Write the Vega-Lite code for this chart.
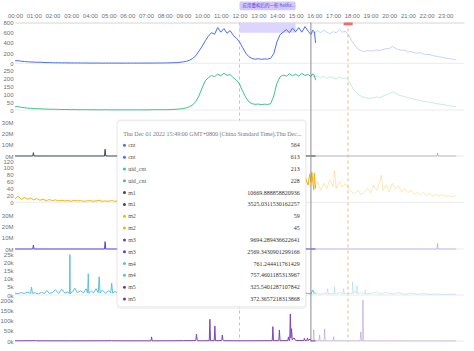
{
"$schema":"https://vega.github.io/schema/vega-lite/v6.json",
"width":449,"height":319,
"autosize":{"type":"none"},
"padding":{"left":15,"top":22.5,"right":10,"bottom":9.5},
"background":"#ffffff",
"config":{
 "view":{"stroke":null},
 "font":"Liberation Sans",
 "mark":{"invalid":"filter"},
 "line":{"strokeWidth":1},
 "axisY":{"grid":false,"domain":false,"ticks":false,"labelPadding":2,"labelFontSize":6,"labelColor":"#6e7079"}
},
"datasets":{
 "vl":[{"t":"2022-12-01T12:00","k":"ev"},{"t":"2022-12-01T17:48","k":"ev"},{"t":"2022-12-01T15:49","k":"cursor"}],
 "ev":[{"t":"2022-12-01T12:00","t2":"2022-12-01T15:00","k":"hotfix","label":"应用重构后的一些 hotfix..."},{"t":"2022-12-01T17:34","t2":"2022-12-01T18:03","k":"alert","label":""}],
 "base":[{"k":"zero"}],
 "tip":[
  {"i":0,"k":"Thu Dec 01 2022 15:49:00 GMT+0800 (China Standard Time),Thu Dec...","v":""},
  {"i":1,"k":"cnt","v":"564"},
  {"i":2,"k":"cnt","v":"613"},
  {"i":3,"k":"uid_cnt","v":"213"},
  {"i":4,"k":"uid_cnt","v":"228"},
  {"i":5,"k":"m1","v":"10669.888858820936"},
  {"i":6,"k":"m1","v":"3525.0311530162257"},
  {"i":7,"k":"m2","v":"59"},
  {"i":8,"k":"m2","v":"45"},
  {"i":9,"k":"m3","v":"9694.289436622641"},
  {"i":10,"k":"m3","v":"2569.3430901299166"},
  {"i":11,"k":"m4","v":"761.244411761429"},
  {"i":12,"k":"m4","v":"757.4601185313967"},
  {"i":13,"k":"m5","v":"325.5401287107842"},
  {"i":14,"k":"m5","v":"372.3657218313868"}
 ],
 "main":[
  {"t":"2022-12-01T00:00","c":48,"u":20,"y":10},
  {"t":"2022-12-01T00:10","c":52,"u":22,"y":18},
  {"t":"2022-12-01T00:20","c":40,"u":17,"y":8},
  {"t":"2022-12-01T00:30","c":36,"u":15,"y":14},
  {"t":"2022-12-01T00:40","c":30,"u":12,"y":9},
  {"t":"2022-12-01T00:50","c":26,"u":11,"y":12},
  {"t":"2022-12-01T01:00","c":24,"u":9,"y":7},
  {"t":"2022-12-01T01:10","c":20,"u":8,"y":11},
  {"t":"2022-12-01T01:20","c":22,"u":8,"y":6},
  {"t":"2022-12-01T01:30","c":17,"u":6,"y":9},
  {"t":"2022-12-01T01:40","c":15,"u":6,"y":5},
  {"t":"2022-12-01T01:50","c":14,"u":5,"y":8},
  {"t":"2022-12-01T02:00","c":12,"u":5,"y":5},
  {"t":"2022-12-01T02:10","c":10,"u":4,"y":7},
  {"t":"2022-12-01T02:20","c":11,"u":4,"y":4},
  {"t":"2022-12-01T02:30","c":8,"u":3,"y":6},
  {"t":"2022-12-01T02:40","c":9,"u":3,"y":4},
  {"t":"2022-12-01T02:50","c":7,"u":3,"y":5},
  {"t":"2022-12-01T03:00","c":8,"u":2,"y":3},
  {"t":"2022-12-01T03:10","c":6,"u":3,"y":6},
  {"t":"2022-12-01T03:20","c":7,"u":2,"y":4},
  {"t":"2022-12-01T03:30","c":5,"u":2,"y":5},
  {"t":"2022-12-01T03:40","c":6,"u":2,"y":3},
  {"t":"2022-12-01T03:50","c":5,"u":2,"y":4},
  {"t":"2022-12-01T04:00","c":4,"u":2,"y":5},
  {"t":"2022-12-01T04:10","c":5,"u":1,"y":3},
  {"t":"2022-12-01T04:20","c":4,"u":2,"y":4},
  {"t":"2022-12-01T04:30","c":5,"u":1,"y":6},
  {"t":"2022-12-01T04:40","c":3,"u":1,"y":3},
  {"t":"2022-12-01T04:50","c":4,"u":2,"y":4},
  {"t":"2022-12-01T05:00","c":3,"u":1,"y":3},
  {"t":"2022-12-01T05:10","c":4,"u":1,"y":5},
  {"t":"2022-12-01T05:20","c":3,"u":1,"y":3},
  {"t":"2022-12-01T05:30","c":4,"u":1,"y":4},
  {"t":"2022-12-01T05:40","c":3,"u":1,"y":3},
  {"t":"2022-12-01T05:50","c":3,"u":1},
  {"t":"2022-12-01T06:00","c":4,"u":1,"y":3},
  {"t":"2022-12-01T06:10","c":3,"u":1},
  {"t":"2022-12-01T06:20","c":4,"u":1},
  {"t":"2022-12-01T06:30","c":3,"u":1,"y":4},
  {"t":"2022-12-01T06:40","c":4,"u":1},
  {"t":"2022-12-01T06:50","c":4,"u":1},
  {"t":"2022-12-01T07:00","c":5,"u":1,"y":4},
  {"t":"2022-12-01T07:10","c":4,"u":1},
  {"t":"2022-12-01T07:20","c":5,"u":2},
  {"t":"2022-12-01T07:30","c":5,"u":2,"y":5},
  {"t":"2022-12-01T07:40","c":6,"u":2},
  {"t":"2022-12-01T07:50","c":6,"u":2},
  {"t":"2022-12-01T08:00","c":7,"u":2,"y":6},
  {"t":"2022-12-01T08:10","c":8,"u":2},
  {"t":"2022-12-01T08:20","c":9,"u":3},
  {"t":"2022-12-01T08:30","c":12,"u":4,"y":8},
  {"t":"2022-12-01T08:40","c":14,"u":5},
  {"t":"2022-12-01T08:50","c":20,"u":7},
  {"t":"2022-12-01T09:00","c":28,"u":10,"y":12},
  {"t":"2022-12-01T09:10","c":40,"u":14},
  {"t":"2022-12-01T09:20","c":62,"u":22},
  {"t":"2022-12-01T09:30","c":95,"u":32,"y":20},
  {"t":"2022-12-01T09:40","c":150,"u":55},
  {"t":"2022-12-01T09:50","c":240,"u":90},
  {"t":"2022-12-01T10:00","c":330,"u":140,"y":38},
  {"t":"2022-12-01T10:10","c":440,"u":185},
  {"t":"2022-12-01T10:20","c":530,"u":205},
  {"t":"2022-12-01T10:30","c":600,"u":220,"y":60},
  {"t":"2022-12-01T10:40","c":570,"u":212},
  {"t":"2022-12-01T10:50","c":700,"u":228},
  {"t":"2022-12-01T11:00","c":610,"u":218,"y":55},
  {"t":"2022-12-01T11:10","c":680,"u":234},
  {"t":"2022-12-01T11:20","c":590,"u":220},
  {"t":"2022-12-01T11:30","c":640,"u":226,"y":62},
  {"t":"2022-12-01T11:40","c":550,"u":205},
  {"t":"2022-12-01T11:50","c":490,"u":190},
  {"t":"2022-12-01T12:00","c":420,"u":165,"y":45},
  {"t":"2022-12-01T12:10","c":310,"u":120},
  {"t":"2022-12-01T12:20","c":200,"u":80},
  {"t":"2022-12-01T12:30","c":130,"u":52,"y":20},
  {"t":"2022-12-01T12:40","c":95,"u":40},
  {"t":"2022-12-01T12:50","c":80,"u":36},
  {"t":"2022-12-01T13:00","c":90,"u":38,"y":15},
  {"t":"2022-12-01T13:10","c":78,"u":34},
  {"t":"2022-12-01T13:20","c":85,"u":37},
  {"t":"2022-12-01T13:30","c":82,"u":35,"y":16},
  {"t":"2022-12-01T13:40","c":100,"u":40},
  {"t":"2022-12-01T13:50","c":190,"u":90},
  {"t":"2022-12-01T14:00","c":420,"u":170,"y":42},
  {"t":"2022-12-01T14:10","c":560,"u":210},
  {"t":"2022-12-01T14:20","c":610,"u":222},
  {"t":"2022-12-01T14:30","c":660,"u":215,"y":70},
  {"t":"2022-12-01T14:40","c":600,"u":230},
  {"t":"2022-12-01T14:50","c":690,"u":218},
  {"t":"2022-12-01T15:00","c":620,"u":228,"y":58},
  {"t":"2022-12-01T15:10","c":700,"u":215,"y":80},
  {"t":"2022-12-01T15:20","c":610,"u":232,"y":62},
  {"t":"2022-12-01T15:30","c":720,"u":220,"y":75},
  {"t":"2022-12-01T15:40","c":630,"u":226,"y":50},
  {"t":"2022-12-01T15:45","y":82},
  {"t":"2022-12-01T15:49","c":564,"c2":613,"u":213,"u2":228,"y":59,"y2":45},
  {"t":"2022-12-01T15:52","y":88,"y2":62},
  {"t":"2022-12-01T15:55","c":650,"u":230,"y2":70},
  {"t":"2022-12-01T15:58","y":36},
  {"t":"2022-12-01T16:00","c":620,"c2":590,"u":222,"u2":210,"y":85,"y2":40},
  {"t":"2022-12-01T16:04","c":400,"u":190,"y":40},
  {"t":"2022-12-01T16:10","c2":640,"u2":218,"y2":60},
  {"t":"2022-12-01T16:20","c2":600,"u2":205,"y2":35},
  {"t":"2022-12-01T16:30","c2":650,"u2":215,"y2":55},
  {"t":"2022-12-01T16:40","c2":610,"u2":200,"y2":40},
  {"t":"2022-12-01T16:50","c2":580,"u2":212,"y2":65},
  {"t":"2022-12-01T17:00","c2":620,"u2":205,"y2":45},
  {"t":"2022-12-01T17:05","y2":92},
  {"t":"2022-12-01T17:10","c2":600,"u2":198,"y2":40},
  {"t":"2022-12-01T17:20","c2":660,"u2":210,"y2":60},
  {"t":"2022-12-01T17:30","c2":610,"u2":200,"y2":45},
  {"t":"2022-12-01T17:40","c2":630,"u2":205,"y2":55},
  {"t":"2022-12-01T17:50","c2":560,"u2":185,"y2":40},
  {"t":"2022-12-01T18:00","c2":440,"u2":150,"y2":30},
  {"t":"2022-12-01T18:10","c2":350,"u2":120,"y2":25},
  {"t":"2022-12-01T18:20","c2":280,"u2":100,"y2":35},
  {"t":"2022-12-01T18:30","c2":250,"u2":88,"y2":22},
  {"t":"2022-12-01T18:40","c2":225,"u2":80,"y2":30},
  {"t":"2022-12-01T18:50","c2":250,"u2":76,"y2":40},
  {"t":"2022-12-01T19:00","c2":240,"u2":74,"y2":28},
  {"t":"2022-12-01T19:10","c2":245,"u2":78,"y2":50},
  {"t":"2022-12-01T19:20","c2":260,"u2":82,"y2":35},
  {"t":"2022-12-01T19:30","c2":250,"u2":80,"y2":60},
  {"t":"2022-12-01T19:35","y2":78},
  {"t":"2022-12-01T19:40","c2":275,"u2":88,"y2":35},
  {"t":"2022-12-01T19:50","c2":285,"u2":96,"y2":50},
  {"t":"2022-12-01T20:00","c2":290,"u2":104,"y2":30},
  {"t":"2022-12-01T20:10","c2":330,"u2":116,"y2":55},
  {"t":"2022-12-01T20:20","c2":295,"u2":108,"y2":38},
  {"t":"2022-12-01T20:30","c2":270,"u2":96,"y2":48},
  {"t":"2022-12-01T20:40","c2":255,"u2":90,"y2":30},
  {"t":"2022-12-01T20:50","c2":260,"u2":84,"y2":40},
  {"t":"2022-12-01T21:00","c2":220,"u2":78,"y2":28},
  {"t":"2022-12-01T21:10","c2":230,"u2":74,"y2":35},
  {"t":"2022-12-01T21:20","c2":205,"u2":68,"y2":24},
  {"t":"2022-12-01T21:30","c2":200,"u2":64,"y2":30},
  {"t":"2022-12-01T21:40","c2":210,"u2":60,"y2":22},
  {"t":"2022-12-01T21:50","c2":180,"u2":56,"y2":28},
  {"t":"2022-12-01T22:00","c2":170,"u2":53,"y2":20},
  {"t":"2022-12-01T22:10","c2":172,"u2":50,"y2":25},
  {"t":"2022-12-01T22:20","c2":150,"u2":46,"y2":18},
  {"t":"2022-12-01T22:30","c2":140,"u2":42,"y2":24},
  {"t":"2022-12-01T22:40","c2":128,"u2":38,"y2":18},
  {"t":"2022-12-01T22:50","c2":118,"u2":35,"y2":22},
  {"t":"2022-12-01T23:00","c2":105,"u2":32,"y2":16},
  {"t":"2022-12-01T23:10","c2":95,"u2":28,"y2":20},
  {"t":"2022-12-01T23:20","c2":85,"u2":25,"y2":15},
  {"t":"2022-12-01T23:30","c2":72,"u2":22,"y2":19},
  {"t":"2022-12-01T23:35","c2":65,"u2":20,"y2":16}
 ],
 "sp":[
  {"t":"2022-12-01T00:00","p":8000,"q":9000,"r":1200,"s":1000},
  {"t":"2022-12-01T00:10","r":800},
  {"t":"2022-12-01T00:20","r":1500},
  {"t":"2022-12-01T00:30","r":900},
  {"t":"2022-12-01T00:40","r":1800},
  {"t":"2022-12-01T00:50","r":1000},
  {"t":"2022-12-01T00:53","r":4800},
  {"t":"2022-12-01T00:56","r":1100},
  {"t":"2022-12-01T00:57","p":8000,"q":9000},
  {"t":"2022-12-01T00:59","p":3000000,"q":3500000},
  {"t":"2022-12-01T01:01","p":8000,"q":9000},
  {"t":"2022-12-01T01:05","r":1300,"s":1500},
  {"t":"2022-12-01T01:07","s":5000},
  {"t":"2022-12-01T01:09","s":1000},
  {"t":"2022-12-01T01:15","r":700},
  {"t":"2022-12-01T01:25","r":1600},
  {"t":"2022-12-01T01:35","r":900},
  {"t":"2022-12-01T01:42","r":2800},
  {"t":"2022-12-01T01:50","r":1000},
  {"t":"2022-12-01T02:00","r":1500},
  {"t":"2022-12-01T02:10","r":3200},
  {"t":"2022-12-01T02:20","r":900},
  {"t":"2022-12-01T02:30","r":3600},
  {"t":"2022-12-01T02:40","r":1200},
  {"t":"2022-12-01T02:48","r":1800},
  {"t":"2022-12-01T02:55","r":1000},
  {"t":"2022-12-01T02:56","r":24800},
  {"t":"2022-12-01T02:57","r":900},
  {"t":"2022-12-01T03:00","s":800},
  {"t":"2022-12-01T03:05","r":2000},
  {"t":"2022-12-01T03:12","r":4200},
  {"t":"2022-12-01T03:20","r":1500},
  {"t":"2022-12-01T03:30","r":2600},
  {"t":"2022-12-01T03:40","r":1300},
  {"t":"2022-12-01T03:48","r":3800},
  {"t":"2022-12-01T03:53","r":1200},
  {"t":"2022-12-01T03:55","r":13000},
  {"t":"2022-12-01T03:57","r":1000},
  {"t":"2022-12-01T04:05","r":2400},
  {"t":"2022-12-01T04:12","r":1300},
  {"t":"2022-12-01T04:20","r":3900},
  {"t":"2022-12-01T04:27","r":1400},
  {"t":"2022-12-01T04:30","r":11200},
  {"t":"2022-12-01T04:33","r":1200},
  {"t":"2022-12-01T04:40","r":3000},
  {"t":"2022-12-01T04:47","p":9000,"q":9000},
  {"t":"2022-12-01T04:49","p":6000000,"q":6500000},
  {"t":"2022-12-01T04:50","r":1100},
  {"t":"2022-12-01T04:51","p":9000,"q":9000},
  {"t":"2022-12-01T05:00","r":2500},
  {"t":"2022-12-01T05:07","r":1300},
  {"t":"2022-12-01T05:08","s":1200},
  {"t":"2022-12-01T05:10","r":7200,"s":5000},
  {"t":"2022-12-01T05:12","s":1000},
  {"t":"2022-12-01T05:13","r":1200},
  {"t":"2022-12-01T05:20","r":2000},
  {"t":"2022-12-01T05:30","r":1500},
  {"t":"2022-12-01T06:30","r":800},
  {"t":"2022-12-01T07:16","s":800},
  {"t":"2022-12-01T07:18","s":20000},
  {"t":"2022-12-01T07:20","s":800},
  {"t":"2022-12-01T08:00","p":8000,"q":8000,"r":1000},
  {"t":"2022-12-01T09:00","s":1500},
  {"t":"2022-12-01T09:40","s":2000},
  {"t":"2022-12-01T09:42","s":34000},
  {"t":"2022-12-01T09:44","s":8000},
  {"t":"2022-12-01T09:46","s":1000},
  {"t":"2022-12-01T10:00","r":1800},
  {"t":"2022-12-01T10:23","s":1500},
  {"t":"2022-12-01T10:25","s":106000},
  {"t":"2022-12-01T10:27","s":1500},
  {"t":"2022-12-01T10:39","s":1500},
  {"t":"2022-12-01T10:41","s":73000},
  {"t":"2022-12-01T10:43","s":1500},
  {"t":"2022-12-01T11:03","s":2000},
  {"t":"2022-12-01T11:05","s":29000},
  {"t":"2022-12-01T11:07","s":6000},
  {"t":"2022-12-01T11:09","s":1500},
  {"t":"2022-12-01T12:00","p":9000,"q":9000,"r":1500,"s":1000},
  {"t":"2022-12-01T13:45","s":1500},
  {"t":"2022-12-01T13:47","s":70000},
  {"t":"2022-12-01T13:49","s":1500},
  {"t":"2022-12-01T14:00","r":1800},
  {"t":"2022-12-01T14:06","s":1500},
  {"t":"2022-12-01T14:08","s":54000},
  {"t":"2022-12-01T14:10","s":1500},
  {"t":"2022-12-01T14:35","s":2000},
  {"t":"2022-12-01T14:37","s":20000},
  {"t":"2022-12-01T14:39","s":2000},
  {"t":"2022-12-01T14:41","s":3000},
  {"t":"2022-12-01T14:43","s":132000},
  {"t":"2022-12-01T14:45","s":15000},
  {"t":"2022-12-01T14:47","s":60000},
  {"t":"2022-12-01T14:49","s":5000},
  {"t":"2022-12-01T14:55","s":15000},
  {"t":"2022-12-01T15:00","s":3000},
  {"t":"2022-12-01T15:26","s":2000},
  {"t":"2022-12-01T15:28","s":13000},
  {"t":"2022-12-01T15:30","r":1200,"s":2000},
  {"t":"2022-12-01T15:36","s":2000},
  {"t":"2022-12-01T15:38","s":15000},
  {"t":"2022-12-01T15:40","s":2000},
  {"t":"2022-12-01T15:47","s":10000},
  {"t":"2022-12-01T15:49","p":10669.89,"p2":3525.03,"q":9694.29,"q2":2569.34,"r":761.24,"r2":757.46,"s":325.54,"s2":372.37},
  {"t":"2022-12-01T15:55","r":3000},
  {"t":"2022-12-01T15:56","s2":1000},
  {"t":"2022-12-01T15:58","s2":54000},
  {"t":"2022-12-01T16:00","r":1200,"r2":600,"s2":1000},
  {"t":"2022-12-01T16:04","p":9000,"q":9000,"r":1400,"s":500},
  {"t":"2022-12-01T16:10","r2":900},
  {"t":"2022-12-01T16:15","s2":1000},
  {"t":"2022-12-01T16:17","s2":29000},
  {"t":"2022-12-01T16:19","s2":1000},
  {"t":"2022-12-01T16:20","r2":500},
  {"t":"2022-12-01T16:30","r2":1200},
  {"t":"2022-12-01T16:31","s2":1000},
  {"t":"2022-12-01T16:33","s2":59000},
  {"t":"2022-12-01T16:35","s2":1000},
  {"t":"2022-12-01T16:41","r2":800},
  {"t":"2022-12-01T16:43","r2":4000},
  {"t":"2022-12-01T16:45","r2":700},
  {"t":"2022-12-01T16:55","r2":1000},
  {"t":"2022-12-01T17:00","s2":1000},
  {"t":"2022-12-01T17:02","s2":21000},
  {"t":"2022-12-01T17:03","r2":600},
  {"t":"2022-12-01T17:04","s2":1000},
  {"t":"2022-12-01T17:05","r2":5000},
  {"t":"2022-12-01T17:07","r2":700},
  {"t":"2022-12-01T17:20","r2":1500},
  {"t":"2022-12-01T17:32","r2":800},
  {"t":"2022-12-01T17:34","r2":4000},
  {"t":"2022-12-01T17:36","r2":700},
  {"t":"2022-12-01T17:50","r2":1200},
  {"t":"2022-12-01T18:01","r2":900},
  {"t":"2022-12-01T18:03","r2":8000},
  {"t":"2022-12-01T18:05","r2":900},
  {"t":"2022-12-01T18:10","r2":2500},
  {"t":"2022-12-01T18:15","r2":1000},
  {"t":"2022-12-01T18:17","r2":5700},
  {"t":"2022-12-01T18:19","r2":900},
  {"t":"2022-12-01T18:27","s2":1000},
  {"t":"2022-12-01T18:29","s2":45000},
  {"t":"2022-12-01T18:30","r2":1500},
  {"t":"2022-12-01T18:31","s2":1000},
  {"t":"2022-12-01T18:34","s2":1000},
  {"t":"2022-12-01T18:36","s2":200000},
  {"t":"2022-12-01T18:38","s2":1000},
  {"t":"2022-12-01T18:41","r2":800},
  {"t":"2022-12-01T18:43","r2":3000},
  {"t":"2022-12-01T18:45","r2":700},
  {"t":"2022-12-01T19:00","r2":900},
  {"t":"2022-12-01T19:20","r2":1800},
  {"t":"2022-12-01T19:30","r2":600,"s2":800},
  {"t":"2022-12-01T19:50","r2":1500},
  {"t":"2022-12-01T20:10","r2":700},
  {"t":"2022-12-01T20:30","r2":1400},
  {"t":"2022-12-01T20:50","r2":500},
  {"t":"2022-12-01T21:00","s2":600},
  {"t":"2022-12-01T21:10","r2":1200},
  {"t":"2022-12-01T21:30","r2":500},
  {"t":"2022-12-01T21:50","r2":900},
  {"t":"2022-12-01T22:10","r2":400},
  {"t":"2022-12-01T22:30","r2":600},
  {"t":"2022-12-01T22:33","p2":4000,"q2":3000},
  {"t":"2022-12-01T22:35","p2":2700000,"q2":5000000},
  {"t":"2022-12-01T22:37","p2":4000,"q2":3000},
  {"t":"2022-12-01T22:50","r2":400},
  {"t":"2022-12-01T23:10","r2":500},
  {"t":"2022-12-01T23:35","p2":3000,"q2":2500,"r2":400,"s2":500}
 ]
},
"resolve":{"scale":{"y":"independent"},"axis":{"x":"independent","y":"independent"}},
"layer":[
 {"data":{"name":"vl"},"transform":[{"filter":"datum.k=='ev'"}],
  "mark":{"type":"rule","color":"#f4a35c","strokeDash":[3,3],"strokeWidth":0.8},
  "encoding":{"x":{"field":"t","type":"temporal","title":null,
   "scale":{"domain":[{"year":2022,"month":12,"date":1,"hours":0},{"year":2022,"month":12,"date":1,"hours":23,"minutes":59,"seconds":59}],"nice":false},
   "axis":{"orient":"top","format":"%H:%M","values":[
    {"year":2022,"month":12,"date":1,"hours":0},{"year":2022,"month":12,"date":1,"hours":1},{"year":2022,"month":12,"date":1,"hours":2},{"year":2022,"month":12,"date":1,"hours":3},
    {"year":2022,"month":12,"date":1,"hours":4},{"year":2022,"month":12,"date":1,"hours":5},{"year":2022,"month":12,"date":1,"hours":6},{"year":2022,"month":12,"date":1,"hours":7},
    {"year":2022,"month":12,"date":1,"hours":8},{"year":2022,"month":12,"date":1,"hours":9},{"year":2022,"month":12,"date":1,"hours":10},{"year":2022,"month":12,"date":1,"hours":11},
    {"year":2022,"month":12,"date":1,"hours":12},{"year":2022,"month":12,"date":1,"hours":13},{"year":2022,"month":12,"date":1,"hours":14},{"year":2022,"month":12,"date":1,"hours":15},
    {"year":2022,"month":12,"date":1,"hours":16},{"year":2022,"month":12,"date":1,"hours":17},{"year":2022,"month":12,"date":1,"hours":18},{"year":2022,"month":12,"date":1,"hours":19},
    {"year":2022,"month":12,"date":1,"hours":20},{"year":2022,"month":12,"date":1,"hours":21},{"year":2022,"month":12,"date":1,"hours":22},{"year":2022,"month":12,"date":1,"hours":23}],
    "labelFontSize":6,"labelColor":"#6e7079","domainColor":"#d4d4d4","ticks":false,"labelPadding":4,"grid":false,"labelOverlap":false,"labelFlush":false}}}},
 {"resolve":{"axis":{"x":"independent","y":"independent"}},"layer":[
  {"data":{"name":"ev"},"transform":[{"filter":"datum.k=='hotfix'"}],"mark":{"type":"rect","color":"#dcd5fc"},
   "encoding":{"x":{"field":"t","type":"temporal","axis":null},"x2":{"field":"t2"},"y":{"datum":600,"axis":null},"y2":{"datum":800}}},
  {"data":{"name":"ev"},"transform":[{"filter":"datum.k=='hotfix'"}],"mark":{"type":"rect","color":"#d3c8fa","cornerRadius":1.5},
   "encoding":{"x":{"field":"t","type":"temporal","axis":null},"x2":{"field":"t2"},"y":{"datum":1040,"axis":null},"y2":{"datum":1210}}},
  {"data":{"name":"ev"},"transform":[{"filter":"datum.k=='hotfix'"}],"mark":{"type":"text","align":"left","baseline":"middle","dx":3,"fontSize":4.5,"color":"#5a3ed8","font":"Noto Sans CJK SC"},
   "encoding":{"x":{"field":"t","type":"temporal","axis":null},"y":{"datum":1125,"axis":null},"text":{"field":"label"}}},
  {"data":{"name":"ev"},"transform":[{"filter":"datum.k=='alert'"}],"mark":{"type":"rect","color":"#ef6b6b"},
   "encoding":{"x":{"field":"t","type":"temporal","axis":null},"x2":{"field":"t2"},"y":{"datum":745,"axis":null},"y2":{"datum":800}}},
  {"data":{"name":"base"},"mark":{"type":"rule","color":"#e6e6e6","strokeWidth":0.8},"encoding":{"y":{"datum":0,"axis":null}}},
  {"data":{"name":"main"},"mark":{"type":"line","color":"#4a6cf7","opacity":0.3},
   "encoding":{"x":{"field":"t","type":"temporal","axis":null},"y":{"field":"c2","type":"quantitative","axis":null}}},
  {"data":{"name":"main"},"mark":{"type":"line","color":"#4a6cf7"},
   "encoding":{"x":{"field":"t","type":"temporal","axis":null},"y":{"field":"c","type":"quantitative","title":null,"scale":{"domain":[0,800],"range":[40.8,0],"nice":false,"zero":false},"axis":{"orient":"left","values":[0,200,400,600,800],"format":"~s"}}}}
 ]},
 {"resolve":{"axis":{"x":"independent","y":"independent"}},"layer":[
  {"data":{"name":"base"},"mark":{"type":"rule","color":"#e6e6e6","strokeWidth":0.8},"encoding":{"y":{"datum":0,"axis":null}}},
  {"data":{"name":"main"},"mark":{"type":"line","color":"#3fc28d","opacity":0.3},
   "encoding":{"x":{"field":"t","type":"temporal","axis":null},"y":{"field":"u2","type":"quantitative","axis":null}}},
  {"data":{"name":"main"},"mark":{"type":"line","color":"#3fc28d"},
   "encoding":{"x":{"field":"t","type":"temporal","axis":null},"y":{"field":"u","type":"quantitative","title":null,"scale":{"domain":[0,250],"range":[87.5,48.2],"nice":false,"zero":false},"axis":{"orient":"left","values":[0,50,100,150,200,250],"format":"~s"}}}}
 ]},
 {"resolve":{"axis":{"x":"independent","y":"independent"}},"layer":[
  {"data":{"name":"base"},"mark":{"type":"rule","color":"#e6e6e6","strokeWidth":0.8},"encoding":{"y":{"datum":0,"axis":null}}},
  {"data":{"name":"sp"},"mark":{"type":"line","color":"#3d4766","opacity":0.3},
   "encoding":{"x":{"field":"t","type":"temporal","axis":null},"y":{"field":"p2","type":"quantitative","axis":null}}},
  {"data":{"name":"sp"},"mark":{"type":"line","color":"#3d4766"},
   "encoding":{"x":{"field":"t","type":"temporal","axis":null},"y":{"field":"p","type":"quantitative","title":null,"scale":{"domain":[0,30000000],"range":[133.5,99.8],"nice":false,"zero":false},"axis":{"orient":"left","values":[0,10000000,20000000,30000000],"format":"~s"}}}}
 ]},
 {"resolve":{"axis":{"x":"independent","y":"independent"}},"layer":[
  {"data":{"name":"base"},"mark":{"type":"rule","color":"#e6e6e6","strokeWidth":0.8},"encoding":{"y":{"datum":0,"axis":null}}},
  {"data":{"name":"main"},"mark":{"type":"line","color":"#f5b30a","opacity":0.3},
   "encoding":{"x":{"field":"t","type":"temporal","axis":null},"y":{"field":"y2","type":"quantitative","axis":null}}},
  {"data":{"name":"main"},"mark":{"type":"line","color":"#f5b30a"},
   "encoding":{"x":{"field":"t","type":"temporal","axis":null},"y":{"field":"y","type":"quantitative","title":null,"scale":{"domain":[0,120],"range":[179.8,138.5],"nice":false,"zero":false},"axis":{"orient":"left","values":[0,20,40,60,80,100,120],"format":"~s"}}}}
 ]},
 {"resolve":{"axis":{"x":"independent","y":"independent"}},"layer":[
  {"data":{"name":"base"},"mark":{"type":"rule","color":"#e6e6e6","strokeWidth":0.8},"encoding":{"y":{"datum":0,"axis":null}}},
  {"data":{"name":"sp"},"mark":{"type":"line","color":"#5a42e2","opacity":0.3},
   "encoding":{"x":{"field":"t","type":"temporal","axis":null},"y":{"field":"q2","type":"quantitative","axis":null}}},
  {"data":{"name":"sp"},"mark":{"type":"line","color":"#5a42e2"},
   "encoding":{"x":{"field":"t","type":"temporal","axis":null},"y":{"field":"q","type":"quantitative","title":null,"scale":{"domain":[0,30000000],"range":[226.5,192.6],"nice":false,"zero":false},"axis":{"orient":"left","values":[0,10000000,20000000,30000000],"format":"~s"}}}}
 ]},
 {"resolve":{"axis":{"x":"independent","y":"independent"}},"layer":[
  {"data":{"name":"base"},"mark":{"type":"rule","color":"#e6e6e6","strokeWidth":0.8},"encoding":{"y":{"datum":0,"axis":null}}},
  {"data":{"name":"sp"},"mark":{"type":"line","color":"#5bbfdc","opacity":0.3},
   "encoding":{"x":{"field":"t","type":"temporal","axis":null},"y":{"field":"r2","type":"quantitative","axis":null}}},
  {"data":{"name":"sp"},"mark":{"type":"line","color":"#5bbfdc"},
   "encoding":{"x":{"field":"t","type":"temporal","axis":null},"y":{"field":"r","type":"quantitative","title":null,"scale":{"domain":[0,25000],"range":[272.5,231.8],"nice":false,"zero":false},"axis":{"orient":"left","values":[0,5000,10000,15000,20000,25000],"format":"~s"}}}}
 ]},
 {"resolve":{"axis":{"x":"independent","y":"independent"}},"layer":[
  {"data":{"name":"base"},"mark":{"type":"rule","color":"#e6e6e6","strokeWidth":0.8},"encoding":{"y":{"datum":0,"axis":null}}},
  {"data":{"name":"sp"},"mark":{"type":"line","color":"#7c45b8","opacity":0.3},
   "encoding":{"x":{"field":"t","type":"temporal","axis":null},"y":{"field":"s2","type":"quantitative","axis":null}}},
  {"data":{"name":"sp"},"mark":{"type":"line","color":"#7c45b8"},
   "encoding":{"x":{"field":"t","type":"temporal","axis":null},"y":{"field":"s","type":"quantitative","title":null,"scale":{"domain":[0,200000],"range":[318.5,277.5],"nice":false,"zero":false},"axis":{"orient":"left","values":[0,50000,100000,150000,200000],"format":"~s"}}}}
 ]},
 {"data":{"name":"vl"},"transform":[{"filter":"datum.k=='cursor'"}],
  "mark":{"type":"rule","color":"#8c8c8c","strokeWidth":1},
  "encoding":{"x":{"field":"t","type":"temporal","axis":null}}},
 {"data":{"name":"tip"},"layer":[
  {"transform":[{"filter":"datum.i==0"}],"mark":{"type":"rect","fill":"#000000","opacity":0.05,"cornerRadius":4},
   "encoding":{"x":{"datum":{"year":2022,"month":12,"date":1,"hours":5,"minutes":25},"type":"temporal","axis":null},"x2":{"datum":{"year":2022,"month":12,"date":1,"hours":15,"minutes":36}},"y":{"datum":-1.2,"axis":null},"y2":{"datum":14.85}}},
  {"transform":[{"filter":"datum.i==0"}],"mark":{"type":"rect","fill":"#ffffff","stroke":"#e4e4e4","strokeWidth":0.6,"cornerRadius":3},
   "encoding":{"x":{"datum":{"year":2022,"month":12,"date":1,"hours":5,"minutes":28},"type":"temporal","axis":null},"x2":{"datum":{"year":2022,"month":12,"date":1,"hours":15,"minutes":32}},"y":{"datum":-1.08,"axis":null},"y2":{"datum":14.65}}},
  {"transform":[{"filter":"datum.i>0"}],"mark":{"type":"circle","size":9,"opacity":1},
   "encoding":{"x":{"datum":{"year":2022,"month":12,"date":1,"hours":5,"minutes":51},"type":"temporal","axis":null},
    "y":{"field":"i","type":"quantitative","scale":{"domain":[0,14],"range":[111,276.5],"nice":false,"zero":false},"axis":null},
    "color":{"field":"k","type":"nominal","scale":{"domain":["cnt","uid_cnt","m1","m2","m3","m4","m5"],"range":["#4a6cf7","#3fc28d","#3d4766","#f5b30a","#5a42e2","#5bbfdc","#6e3a9e"]},"legend":null}}},
  {"transform":[{"filter":"datum.i>0"}],"mark":{"type":"text","align":"left","baseline":"middle","font":"Liberation Serif","fontSize":6,"color":"#555555"},
   "encoding":{"x":{"datum":{"year":2022,"month":12,"date":1,"hours":6,"minutes":3},"type":"temporal","axis":null},"y":{"field":"i","type":"quantitative","axis":null},"text":{"field":"k"}}},
  {"transform":[{"filter":"datum.i>0"}],"mark":{"type":"text","align":"right","baseline":"middle","font":"Liberation Serif","fontSize":6,"color":"#333333"},
   "encoding":{"x":{"datum":{"year":2022,"month":12,"date":1,"hours":15,"minutes":13},"type":"temporal","axis":null},"y":{"field":"i","type":"quantitative","axis":null},"text":{"field":"v"}}},
  {"transform":[{"filter":"datum.i==0"}],"mark":{"type":"text","align":"left","baseline":"middle","font":"Liberation Serif","fontSize":6,"color":"#777777"},
   "encoding":{"x":{"datum":{"year":2022,"month":12,"date":1,"hours":5,"minutes":47},"type":"temporal","axis":null},"y":{"field":"i","type":"quantitative","axis":null},"text":{"field":"k"}}}
 ]}
]
}
